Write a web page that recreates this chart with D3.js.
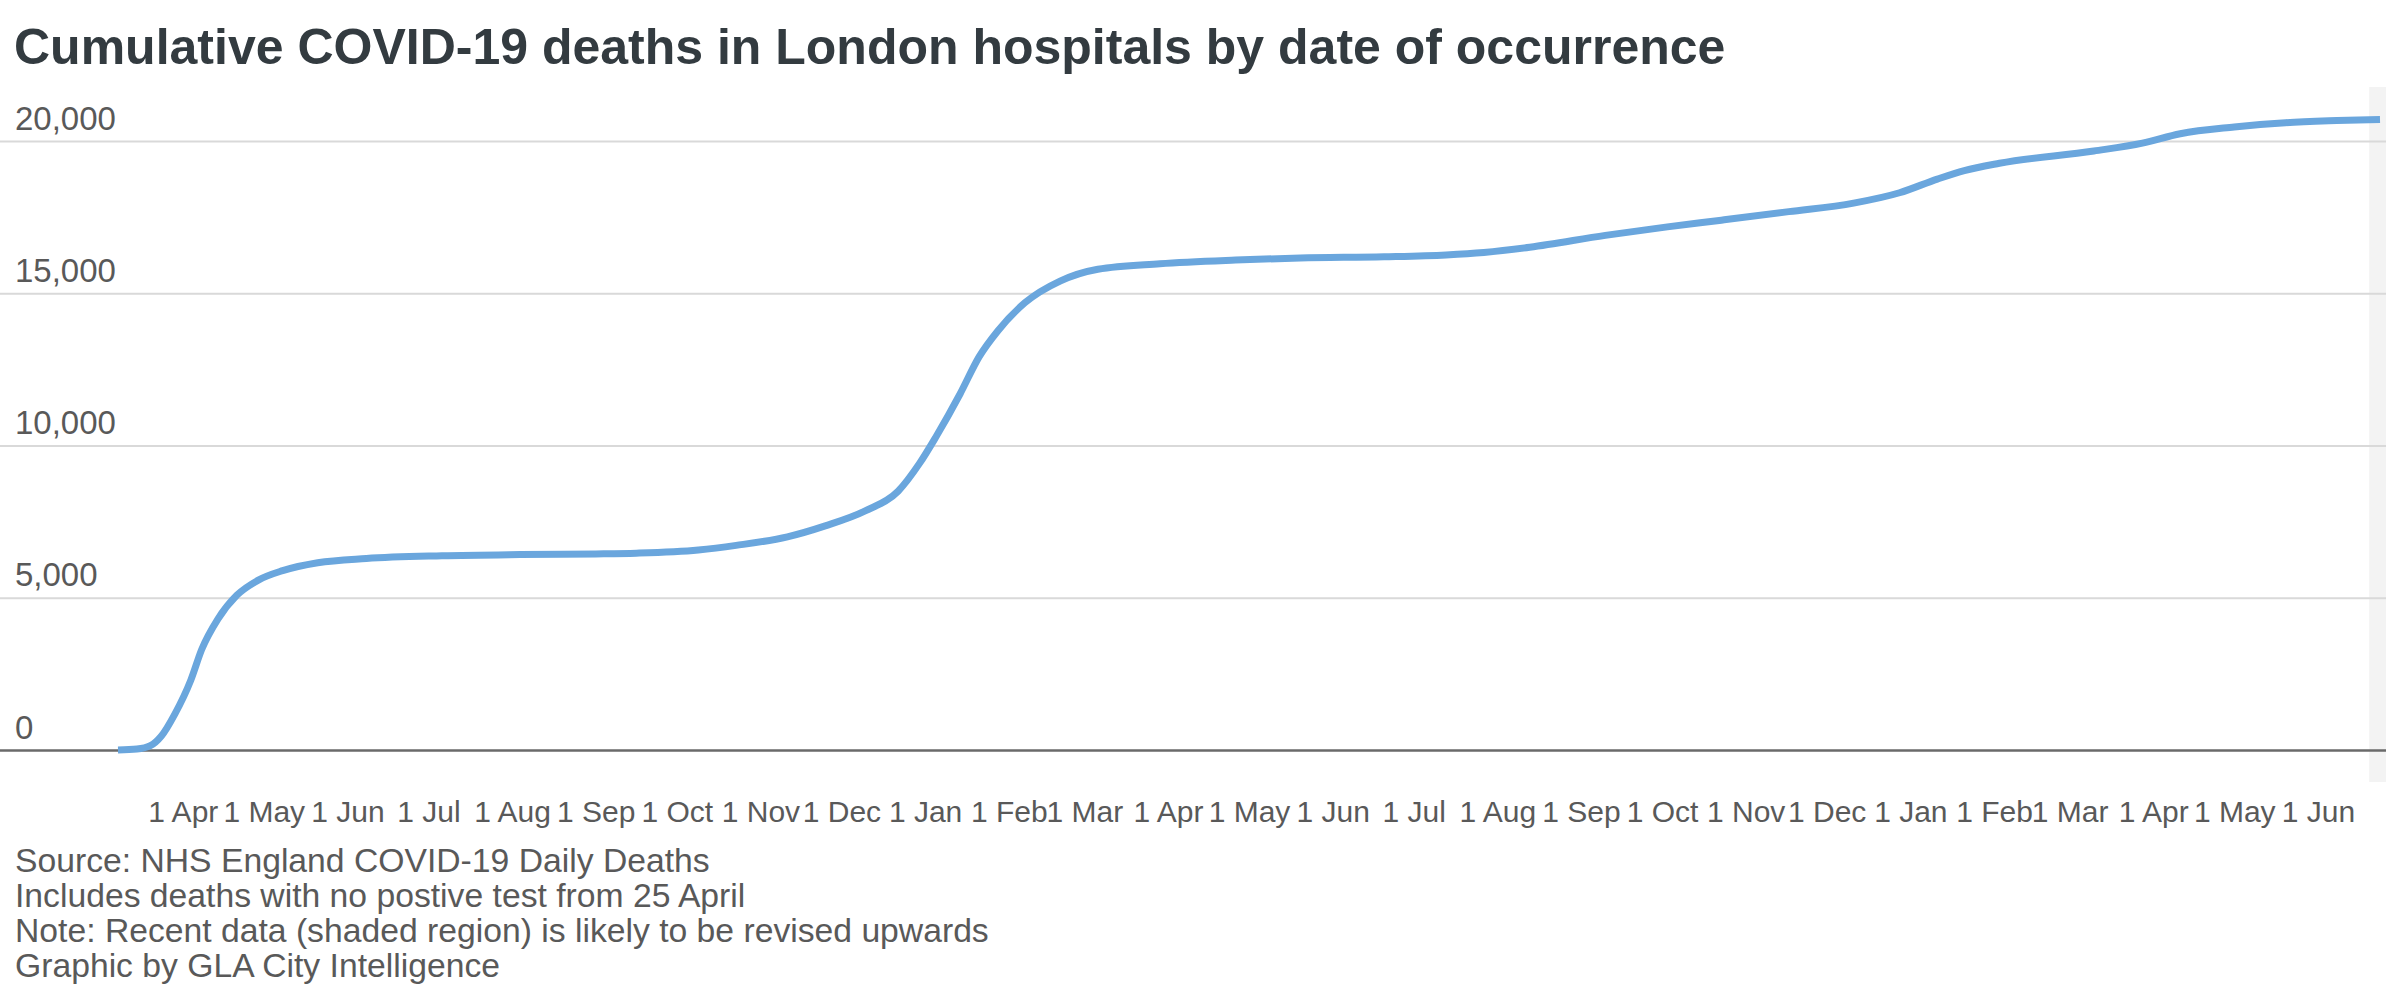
<!DOCTYPE html>
<html>
<head>
<meta charset="utf-8">
<title>Cumulative COVID-19 deaths in London hospitals</title>
<script src="https://cdn.jsdelivr.net/npm/d3@7"></script>
<style>
  body { margin: 0; background: #fff; }
  svg { display: block; font-family: "Liberation Sans", Arial, sans-serif; }
</style>
</head>
<body>
<div id="chart"></div>
<script>
// cumulative deaths by date of occurrence
const dates = [
  "2020-03-08", "2020-03-15", "2020-03-20", "2020-03-24", "2020-03-29",
  "2020-04-04", "2020-04-08", "2020-04-14", "2020-04-21", "2020-04-29",
  "2020-05-08", "2020-05-21", "2020-06-08", "2020-07-06", "2020-08-04",
  "2020-09-01", "2020-09-16", "2020-10-09", "2020-10-23", "2020-11-11",
  "2020-11-25", "2020-12-10", "2020-12-22", "2020-12-30", "2021-01-05",
  "2021-01-14", "2021-01-21", "2021-01-28", "2021-02-07", "2021-02-20",
  "2021-03-06", "2021-03-29", "2021-04-26", "2021-05-20", "2021-06-20",
  "2021-07-13", "2021-07-27", "2021-08-13", "2021-09-10", "2021-10-03",
  "2021-10-23", "2021-11-17", "2021-12-11", "2021-12-28", "2022-01-11",
  "2022-01-21", "2022-02-03", "2022-03-10", "2022-03-28", "2022-04-11",
  "2022-05-01", "2022-05-20", "2022-06-08", "2022-06-24"
];
const deaths = [
  0, 30, 140, 450, 1170,
  2300, 3300, 4300, 5080, 5580,
  5890, 6150, 6290, 6380, 6420,
  6440, 6465, 6570, 6720, 7000,
  7360, 7860, 8500, 9420, 10280,
  11700, 12910, 13770, 14690, 15400,
  15790, 15970, 16090, 16160, 16200,
  16260, 16340, 16510, 16900, 17180,
  17400, 17680, 17960, 18300, 18750,
  19030, 19270, 19670, 19930, 20240,
  20460, 20600, 20670, 20710
];
const yTicks = [0, 5000, 10000, 15000, 20000];
const shadedFrom = "2022-06-20"; // recent data, likely to be revised

const title = "Cumulative COVID-19 deaths in London hospitals by date of occurrence";
const notes = [
  "Source: NHS England COVID-19 Daily Deaths",
  "Includes deaths with no postive test from 25 April",
  "Note: Recent data (shaded region) is likely to be revised upwards",
  "Graphic by GLA City Intelligence"
];

const width = 2400;
const height = 1000;
const gridRight = 2386;

const parse = d3.utcParse("%Y-%m-%d");
const series = dates.map((d, i) => ({ date: parse(d), value: deaths[i] }));

const svg = d3.select("#chart")
  .append("svg")
  .attr("width", width)
  .attr("height", height);

svg.append("rect").attr("width", width).attr("height", height).attr("fill", "#fff");

const x = d3.scaleUtc()
  .domain(d3.extent(series, (d) => d.date))
  .range([118, 2380]);
const y = d3.scaleLinear().domain([0, 20000]).range([750, 141]);

// shaded band for the latest days
const shadeX = x(parse(shadedFrom));
svg.append("rect")
  .attr("x", shadeX)
  .attr("y", 87)
  .attr("width", gridRight - shadeX)
  .attr("height", 695)
  .attr("fill", "#f3f3f3");

// y axis + gridlines
const yAxis = svg.append("g")
  .call(
    d3.axisRight(y)
      .tickValues(yTicks)
      .tickSize(gridRight)
      .tickFormat(d3.format(","))
  );
yAxis.attr("font-family", null).attr("font-size", null);
yAxis.select(".domain").remove();
yAxis.selectAll(".tick line")
  .attr("stroke", (d) => (d === 0 ? "#6a6a6a" : "#d9d9d9"))
  .attr("stroke-width", (d) => (d === 0 ? 2.5 : 2));
yAxis.selectAll(".tick text")
  .attr("x", 15)
  .attr("dy", -12)
  .attr("text-anchor", "start")
  .attr("fill", "#595959")
  .attr("font-size", 33);

// x axis, one label per month
const xAxis = svg.append("g")
  .attr("transform", "translate(0,822)")
  .call(
    d3.axisBottom(x)
      .ticks(d3.utcMonth.every(1))
      .tickFormat(d3.utcFormat("%-d %b"))
      .tickSize(0)
  );
xAxis.attr("font-family", null).attr("font-size", null);
xAxis.select(".domain").remove();
xAxis.selectAll(".tick line").remove();
xAxis.selectAll(".tick text")
  .attr("y", 0)
  .attr("dy", null)
  .attr("fill", "#595959")
  .attr("font-size", 30);

// the line
svg.append("path")
  .datum(series)
  .attr("fill", "none")
  .attr("stroke", "#6aa6dd")
  .attr("stroke-width", 7)
  .attr("stroke-linejoin", "round")
  .attr(
    "d",
    d3.line()
      .x((d) => x(d.date))
      .y((d) => y(d.value))
      .curve(d3.curveMonotoneX)
  );

// title
svg.append("text")
  .attr("x", 14)
  .attr("y", 64)
  .attr("font-size", 50)
  .attr("font-weight", "bold")
  .attr("fill", "#333b40")
  .text(title);

// footer notes
svg.selectAll(".note")
  .data(notes)
  .join("text")
  .attr("class", "note")
  .attr("x", 15)
  .attr("y", (d, i) => 872 + i * 35)
  .attr("font-size", 33.7)
  .attr("fill", "#595959")
  .text((d) => d);
</script>
</body>
</html>
